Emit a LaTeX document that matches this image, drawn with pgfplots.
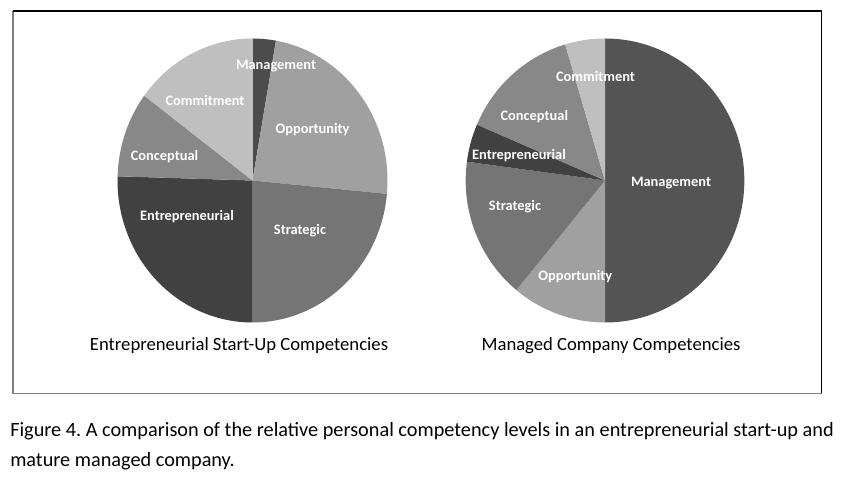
\documentclass[border=0pt]{standalone}
\usepackage{pgfplots}
\pgfplotsset{compat=1.18}
\usepackage{fontspec}
\setmainfont{Carlito}
\frenchspacing

% grey tones of the slices
\definecolor{mgmtL}{HTML}{4C4C4C}
\definecolor{mgmtR}{HTML}{545454}
\definecolor{oppo}{HTML}{A0A0A0}
\definecolor{strat}{HTML}{757575}
\definecolor{entre}{HTML}{414141}
\definecolor{conc}{HTML}{888888}
\definecolor{commit}{HTML}{BFBFBF}

\tikzset{lbl/.style={text=white,font=\fontsize{10.8}{12}\selectfont\bfseries,inner sep=0pt}}
\pgfplotsset{pie/.style={anchor=origin,xmin=-1,xmax=1,ymin=-1,ymax=1,hide axis,clip=false}}

\begin{document}
\begin{tikzpicture}
\begin{scope}[x=0.75pt,y=0.75pt]
\fill[white] (0,0) rectangle (849,478);
% frame
\draw[gray,line width=0.9pt] (13,478-11) -- (13,478-393.5) -- (821.5,478-393.5);
\draw[black,line width=0.9pt] (13,478-11) -- (821.5,478-11) -- (821.5,478-393.5);
\end{scope}

% Entrepreneurial start-up: Management 2.8, Opportunity 23.7, Strategic 23.5,
% Entrepreneurial 25.5, Conceptual 9.7, Commitment 14.8 (per cent)
\begin{axis}[pie,at={(189.375pt,223.125pt)},x=101.25pt,y=106.5pt]
\addplot[draw=none,fill=mgmtL] coordinates {(0,0) (0,1)}
    arc[start angle=90,end angle=80,x radius=101.25pt,y radius=106.5pt] -- cycle;
\addplot[draw=none,fill=oppo] coordinates {(0,0) (0.1736,0.9848)}
    arc[start angle=80,end angle=-5.4,x radius=101.25pt,y radius=106.5pt] -- cycle;
\addplot[draw=none,fill=strat] coordinates {(0,0) (0.9956,-0.0941)}
    arc[start angle=-5.4,end angle=-90,x radius=101.25pt,y radius=106.5pt] -- cycle;
\addplot[draw=none,fill=entre] coordinates {(0,0) (0,-1)}
    arc[start angle=-90,end angle=-181.7,x radius=101.25pt,y radius=106.5pt] -- cycle;
\addplot[draw=none,fill=conc] coordinates {(0,0) (-0.9996,0.0297)}
    arc[start angle=-181.7,end angle=-216.7,x radius=101.25pt,y radius=106.5pt] -- cycle;
\addplot[draw=none,fill=commit] coordinates {(0,0) (-0.8018,0.5976)}
    arc[start angle=-216.7,end angle=-270,x radius=101.25pt,y radius=106.5pt] -- cycle;
\end{axis}

% Managed company: Management 50, Opportunity 11.0, Strategic 16.1,
% Entrepreneurial 4.3, Conceptual 13.9, Commitment 4.6 (per cent)
\begin{axis}[pie,at={(453.75pt,223.125pt)},x=104.5pt,y=106.5pt]
\addplot[draw=none,fill=mgmtR] coordinates {(0,0) (0,1)}
    arc[start angle=90,end angle=-90,x radius=104.5pt,y radius=106.5pt] -- cycle;
\addplot[draw=none,fill=oppo] coordinates {(0,0) (0,-1)}
    arc[start angle=-90,end angle=-129.5,x radius=104.5pt,y radius=106.5pt] -- cycle;
\addplot[draw=none,fill=strat] coordinates {(0,0) (-0.6361,-0.7716)}
    arc[start angle=-129.5,end angle=-187.6,x radius=104.5pt,y radius=106.5pt] -- cycle;
\addplot[draw=none,fill=entre] coordinates {(0,0) (-0.9912,0.1323)}
    arc[start angle=-187.6,end angle=-203.2,x radius=104.5pt,y radius=106.5pt] -- cycle;
\addplot[draw=none,fill=conc] coordinates {(0,0) (-0.9191,0.3939)}
    arc[start angle=-203.2,end angle=-253.4,x radius=104.5pt,y radius=106.5pt] -- cycle;
\addplot[draw=none,fill=commit] coordinates {(0,0) (-0.2857,0.9583)}
    arc[start angle=-253.4,end angle=-270,x radius=104.5pt,y radius=106.5pt] -- cycle;
\end{axis}

\begin{scope}[x=0.75pt,y=0.75pt]
% slice labels
\node[lbl] at (276,478-66) {Management};
\node[lbl] at (312.5,478-130) {Opportunity};
\node[lbl] at (205,478-101) {Commitment};
\node[lbl] at (164.5,478-157) {Conceptual};
\node[lbl] at (187,478-217) {Entrepreneurial};
\node[lbl] at (300,478-231) {Strategic};

\node[lbl] at (595.5,478-76.5) {Commitment};
\node[lbl] at (534.3,478-117) {Conceptual};
\node[lbl] at (519,478-156) {Entrepreneurial};
\node[lbl] at (671,478-183) {Management};
\node[lbl] at (515,478-206.5) {Strategic};
\node[lbl] at (575.3,478-276.5) {Opportunity};

% pie titles
\node[anchor=base,inner sep=0pt,font=\fontsize{14}{16}\selectfont] at (239,478-351) {Entrepreneurial Start-Up Competencies};
\node[anchor=base,inner sep=0pt,font=\fontsize{14}{16}\selectfont] at (611,478-351) {Managed Company Competencies};

% caption
\node[anchor=base west,inner sep=0pt,font=\fontsize{15.2}{18}\selectfont] at (10,478-437) {Figure 4. A comparison of the relative personal competency levels in an entrepreneurial start-up and};
\node[anchor=base west,inner sep=0pt,font=\fontsize{15.2}{18}\selectfont] at (10,478-466) {mature managed company.};
\end{scope}
\end{tikzpicture}
\end{document}
